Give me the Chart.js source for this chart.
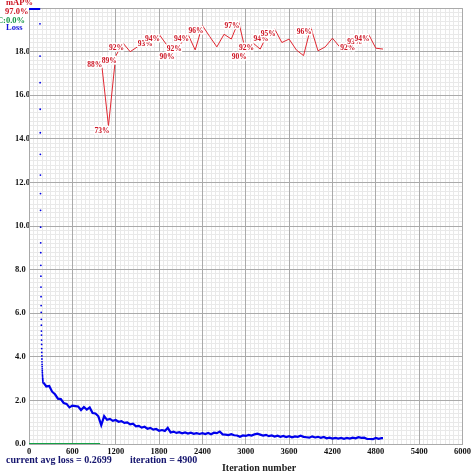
<!DOCTYPE html>
<html><head><meta charset="utf-8">
<script src="https://cdn.jsdelivr.net/npm/chart.js@4"></script>
<style>html,body{margin:0;padding:0;background:#fff;}canvas{display:block;}</style>
</head><body>
<canvas id="c" width="474" height="472"></canvas>
<script>
// ---- data ----
const clipIter = [0, 155];           // loss above the top of the plot (clipped)
const clipLoss = [20, 20];
const dotIter = [152,153,154,155,156,157,158,159,160,161,162,163,164,165,166,167,168,169,170,171,172,173,174,175,176,177,178,179,180,181,182,183,184,185,186,187,188,189,190,191,192,193];
const dotLoss = [19.28,17.80,16.58,15.36,14.28,13.29,12.34,11.49,10.72,9.95,9.23,8.78,8.20,7.70,7.20,6.76,6.35,6.04,5.72,5.45,5.18,5.00,4.77,4.57,4.38,4.20,4.04,3.90,3.77,3.65,3.55,3.45,3.36,3.28,3.21,3.14,3.08,3.02,2.97,2.92,2.88,2.82];
const bandLoss = [2.82,2.64,2.66,2.40,2.28,2.08,2.06,1.88,1.84,1.68,1.76,1.74,1.72,1.56,1.70,1.58,1.68,1.42,1.40,1.27,
  0.86,1.28,1.11,1.15,1.06,1.10,1.02,1.05,0.97,0.99,0.90,0.93,0.81,0.83,0.75,0.79,0.70,0.74,0.66,0.69,
  0.61,0.64,0.60,0.74,0.53,0.57,0.51,0.54,0.49,0.53,0.48,0.52,0.47,0.50,0.46,0.50,0.46,0.51,0.45,0.52,
  0.50,0.57,0.44,0.43,0.41,0.45,0.40,0.39,0.33,0.39,0.37,0.42,0.39,0.44,0.47,0.43,0.39,0.42,0.36,0.39,
  0.34,0.38,0.33,0.37,0.32,0.36,0.31,0.35,0.33,0.38,0.33,0.31,0.29,0.35,0.30,0.33,0.28,0.32,0.26,0.29,
  0.25,0.28,0.25,0.28,0.24,0.28,0.25,0.29,0.26,0.31,0.28,0.29,0.23,0.23,0.22,0.28,0.24,0.27,0.27];
const bandIter = [];
for (let it = 200; it <= 4880; it += 40) bandIter.push(it);
bandIter.push(4900);
const mapIter = [1000,1100,1200,1300,1400,1500,1600,1700,1800,1900,2000,2100,2200,2300,2400,2500,2600,2700,2800,2900,
  3000,3100,3200,3300,3400,3500,3600,3700,3800,3900,4000,4100,4200,4300,4400,4500,4600,4700,4800,4900];
const mapPct = [88.0,73.0,89.0,92.0,90.0,91.1,91.8,93.0,94.0,91.7,90.0,91.8,94.0,90.4,96.0,93.5,91.1,94.0,92.9,97.0,
  90.0,92.0,90.6,94.0,95.2,92.1,92.9,90.4,89.1,95.6,90.2,91.1,93.1,91.1,91.5,92.0,93.4,94.0,90.8,90.6];
const mapLabel = ['88%','73%','89%','92%','','','','93%','94%','','90%','92%','94%','','96%','','','','','97%',
  '90%','92%','','94%','95%','','','','','96%','','','','','','92%','93%','94%','',''];
const accIter = [0, 985];
const accPct = [0, 0];
const xTickStep = 600, xMax = 6000;
const yTickStep = 2, yMax = 20;
const bestMap = '97.0%';
const accText = 'C:0.0%';
const avgLossText = 'current avg loss = 0.2699';
const iterText = 'iteration = 4900';

const pts = (xs, ys, f) => xs.map((x, i) => ({x, y: f ? f(ys[i]) : ys[i]}));
const MAJOR = 'rgb(170,170,170)', MINOR = 'rgb(233,233,233)';
const FONT = '"Liberation Serif", "DejaVu Serif", serif';

const textPlugin = {
  id: 'texts',
  afterDatasetsDraw(chart) {
    const ctx = chart.ctx, xs = chart.scales.x, ys = chart.scales.y;
    ctx.save();
    ctx.font = 'bold 7.5px ' + FONT;
    ctx.textAlign = 'left'; ctx.textBaseline = 'alphabetic'; ctx.lineJoin = 'round';
    mapIter.forEach((it, i) => {
      const t = mapLabel[i]; if (!t) return;
      const px = xs.getPixelForValue(it), py = ys.getPixelForValue(mapPct[i] / 5);
      ctx.strokeStyle = '#fff'; ctx.lineWidth = 3; ctx.strokeText(t, px - 14, py + 7);
      ctx.fillStyle = 'rgb(205,20,35)'; ctx.fillText(t, px - 14, py + 7);
    });
    ctx.restore();
  },
  afterDraw(chart) {
    const ctx = chart.ctx;
    ctx.save();
    ctx.font = 'bold 8.5px ' + FONT;
    ctx.textBaseline = 'middle';
    ctx.textAlign = 'left';
    ctx.fillStyle = 'rgb(205,20,35)';
    ctx.fillText('mAP%', 6, 3);
    ctx.fillText(bestMap, 5, 12);
    ctx.textAlign = 'right';
    ctx.fillStyle = 'rgb(20,150,70)';
    ctx.fillText(accText, 25, 20.5);
    ctx.textAlign = 'left';
    ctx.fillStyle = 'rgb(20,20,220)';
    ctx.fillText('Loss', 6, 27.5);
    ctx.font = 'bold 10px ' + FONT;
    ctx.fillStyle = 'rgb(20,20,110)';
    ctx.fillText(avgLossText, 6, 460);
    ctx.fillText(iterText, 130, 460);
    ctx.textAlign = 'center';
    ctx.fillStyle = '#222';
    ctx.fillText('Iteration number', 259, 468);
    ctx.restore();
  }
};

new Chart(document.getElementById('c'), {
  type: 'scatter',
  data: {
    datasets: [
      {data: pts(accIter, accPct, v => v / 5), showLine: true, borderColor: 'rgb(20,160,70)', borderWidth: 2, pointRadius: 0},
      {data: pts(clipIter, clipLoss), showLine: true, borderColor: 'rgb(0,0,230)', borderWidth: 3.6, pointRadius: 0},
      {data: pts(dotIter, dotLoss), showLine: false, pointRadius: 0.9, pointBorderWidth: 0, backgroundColor: 'rgb(0,0,230)'},
      {data: pts(bandIter, bandLoss), showLine: true, borderColor: 'rgb(0,0,235)', borderWidth: 2.2, pointRadius: 0, tension: 0},
      {data: pts(mapIter, mapPct, v => v / 5), showLine: true, borderColor: 'rgb(225,40,50)', borderWidth: 1, pointRadius: 0, tension: 0}
    ]
  },
  options: {
    responsive: false, animation: false, devicePixelRatio: 1,
    layout: {padding: {left: 15, top: 0, right: 0, bottom: 0}, autoPadding: false},
    plugins: {legend: {display: false}, tooltip: {enabled: false}},
    scales: {
      xMinor: {type: 'linear', position: 'bottom', min: 0, max: xMax, z: -2,
        ticks: {display: false, stepSize: 60}, grid: {color: MINOR, drawTicks: false}, border: {display: false},
        afterFit(s) { s.height = 0; }},
      yMinor: {type: 'linear', position: 'left', min: 0, max: yMax, z: -2,
        ticks: {display: false, stepSize: 0.2}, grid: {color: MINOR, drawTicks: false}, border: {display: false},
        afterFit(s) { s.width = 0; }},
      x: {type: 'linear', position: 'bottom', min: 0, max: xMax, z: -1,
        ticks: {stepSize: xTickStep, padding: 3, color: '#111', font: {family: FONT, size: 8.5, weight: 'bold'},
          maxRotation: 0, autoSkip: false, callback: v => String(v)},
        grid: {color: MAJOR, drawTicks: false}, border: {color: MAJOR},
        afterFit(s) { s.height = 28; }},
      y: {type: 'linear', position: 'left', min: 0, max: yMax, z: -1,
        ticks: {stepSize: yTickStep, crossAlign: 'far', color: '#111', font: {family: FONT, size: 8.5, weight: 'bold'},
          callback: v => v >= yMax ? '' : v.toFixed(1)},
        grid: {color: MAJOR, drawTicks: false}, border: {color: MAJOR},
        afterFit(s) { s.width = 14; }}
    }
  },
  plugins: [textPlugin]
});
</script>
</body></html>
